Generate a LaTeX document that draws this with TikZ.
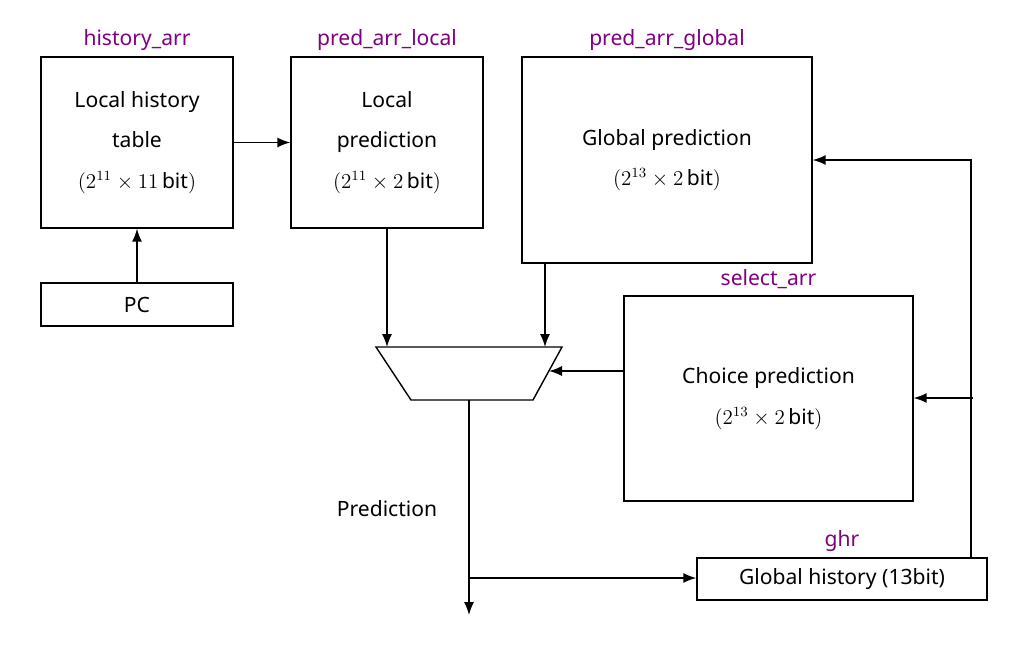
\documentclass[tikz,border=0pt]{standalone}
\usepackage{fontspec}
\setmainfont{Noto Sans}
\usetikzlibrary{positioning,arrows.meta}
\definecolor{labelpurple}{RGB}{128,0,128}
\begin{document}
\begin{tikzpicture}[
    x=0.02cm,y=-0.02cm,
    block/.style={draw,thick,align=center,inner sep=0pt},
    arrname/.style={text=labelpurple,font=\large},
    flow/.style={thick,-{Latex[length=2.6mm,width=2mm]}},
    every node/.style={font=\large}
  ]
    \useasboundingbox (0,0) rectangle (1029,664);

    % tables
    \node[block,minimum width=3.84cm,minimum height=3.42cm] (hist) at (137,142.5)
      {Local history\\[9pt]table\\[9pt]$(2^{11}\times 11\,$bit$)$};
    \node[arrname,above=0pt of hist] {history\_arr};

    \node[block,minimum width=3.84cm,minimum height=0.86cm] (pc) at (137,304.5) {PC};

    \node[block,minimum width=3.84cm,minimum height=3.42cm] (local) at (387,142.5)
      {Local\\[9pt]prediction\\[9pt]$(2^{11}\times 2\,$bit$)$};
    \node[arrname,above=0pt of local] {pred\_arr\_local};

    \node[block,minimum width=5.8cm,minimum height=4.12cm] (global) at (667,160)
      {Global prediction\\[9pt]$(2^{13}\times 2\,$bit$)$};
    \node[arrname,above=0pt of global] {pred\_arr\_global};

    \node[block,minimum width=5.78cm,minimum height=4.1cm] (choice) at (768.5,398.5)
      {Choice prediction\\[9pt]$(2^{13}\times 2\,$bit$)$};
    \node[arrname,above=0pt of choice] {select\_arr};

    \node[block,minimum width=5.8cm,minimum height=0.84cm] (ghr) at (842,579) {Global history (13bit)};
    \node[arrname,above=0pt of ghr] {ghr};

    % mux
    \draw[thick] (376,347) -- (562,347) -- (533,400) -- (411,400) -- cycle;
    \coordinate (muxl) at (387,347);
    \coordinate (muxg) at (545,347);
    \coordinate (muxs) at (549,371);
    \coordinate (muxo) at (469,400);
    \coordinate (out) at (469,615);
    \coordinate (tap) at (469,578);
    \coordinate (up) at (971,558);
    \coordinate (corner) at (971,160);
    \coordinate (side) at (973,398);

    % connections
    \draw[flow] (hist.east) -- (local.west);
    \draw[flow] (pc.north) -- (hist.south);
    \draw[flow] (local.south) -- (muxl);
    \draw[flow] (global.south -| muxg) -- (muxg);
    \draw[flow] (choice.west |- muxs) -- (muxs);
    \draw[flow] (muxo) -- (out);
    \draw[flow] (tap) -- (ghr.west |- tap);
    \draw[flow] (up) -- (corner) -- (global.east |- corner);
    \draw[flow] (side) -- (choice.east |- side);
    \node at (387,509) {Prediction};
\end{tikzpicture}
\end{document}
